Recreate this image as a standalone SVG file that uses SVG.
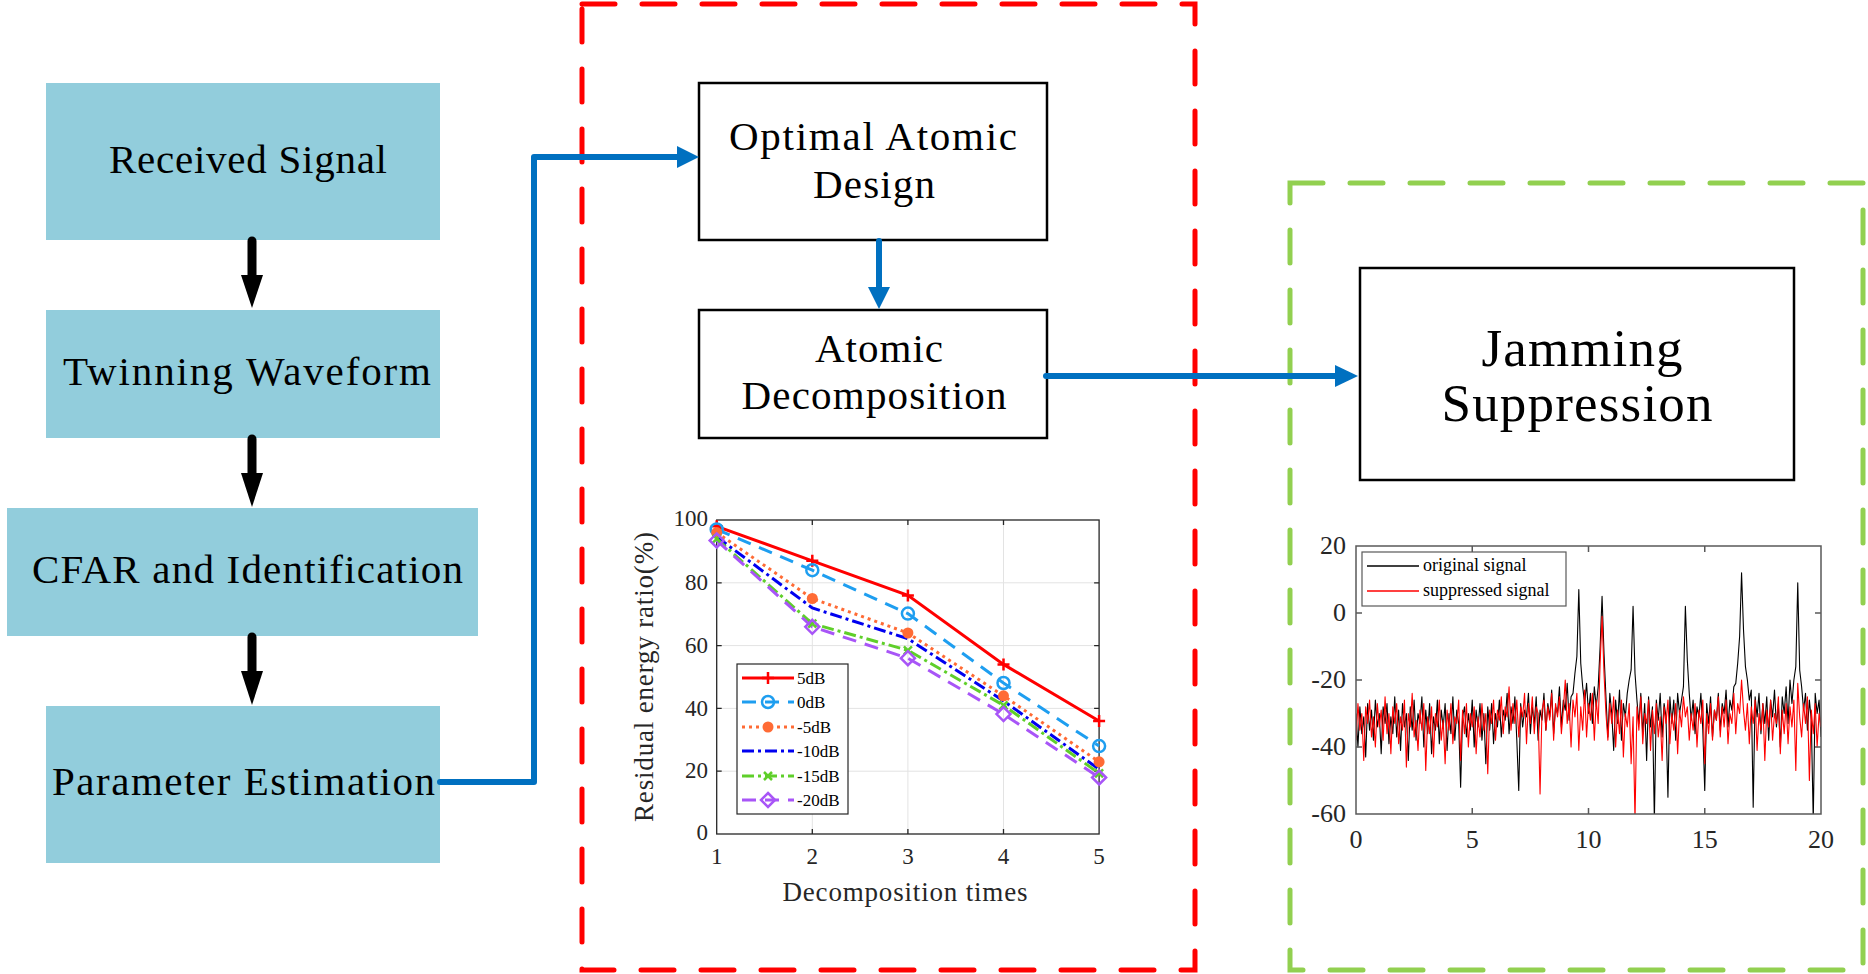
<svg xmlns="http://www.w3.org/2000/svg" xmlns:xlink="http://www.w3.org/1999/xlink" width="1868" height="974" viewBox="0 0 1868 974">
<style>
.fillbox{fill:#92CDDC;}
.wbox{fill:#fff;stroke:#000;stroke-width:2.5;}
.lbl{font-family:"Liberation Serif","Times New Roman",serif;fill:#000;text-anchor:middle;font-size:41px;}
.big{font-size:53px;}
.blk{stroke:#000;stroke-width:9;stroke-linecap:round;fill:none;}
.blu{stroke:#0070C0;stroke-width:6;stroke-linecap:round;stroke-linejoin:round;fill:none;}
.redd{fill:none;stroke:#FF0000;stroke-width:5;stroke-dasharray:33 27;stroke-linecap:round;}
.grnd{fill:none;stroke:#92D050;stroke-width:5;stroke-dasharray:33 27;stroke-linecap:round;}
.ax{fill:none;stroke:#262626;stroke-width:1.3;}
.ax2{fill:none;stroke:#595959;stroke-width:1.5;}
.grid{stroke:#E3E3E3;stroke-width:1;}
.tk{font-family:"Liberation Serif","Times New Roman",serif;font-size:23px;fill:#262626;}
.tk2{font-family:"Liberation Serif","Times New Roman",serif;font-size:26px;fill:#262626;}
.ttl{font-family:"Liberation Serif","Times New Roman",serif;font-size:27px;fill:#262626;text-anchor:middle;}
.lg{font-family:"Liberation Serif","Times New Roman",serif;font-size:17px;fill:#000;}
.lg2{font-family:"Liberation Serif","Times New Roman",serif;font-size:18px;fill:#000;}
.s5{fill:none;stroke:#FF0000;stroke-width:3;}
.s0{fill:none;stroke:#1E9EF0;stroke-width:3;stroke-dasharray:14 9;}
.sm5{fill:none;stroke:#FF6B35;stroke-width:3;stroke-dasharray:3 4;}
.sm10{fill:none;stroke:#0000F0;stroke-width:3;stroke-dasharray:12 4 3 4;}
.sm15{fill:none;stroke:#5FCF2A;stroke-width:3;stroke-dasharray:12 4 3 4;}
.sm20{fill:none;stroke:#A855F7;stroke-width:3;stroke-dasharray:14 9;}
.sig{fill:none;stroke-width:1.1;vector-effect:non-scaling-stroke;stroke-linejoin:round;}
</style>
<defs>
<g id="mk5"><path d="M-6,0H6M0,-6V6" stroke="#FF0000" stroke-width="2.5" fill="none"/></g>
<g id="mk0"><circle r="6" fill="none" stroke="#1E9EF0" stroke-width="2.5"/></g>
<g id="mkm5"><circle r="5.5" fill="#FF6B35"/></g>
<g id="mkm15"><path d="M-4,-4L4,4M-4,4L4,-4" stroke="#5FCF2A" stroke-width="2.5" fill="none"/></g>
<g id="mkm20"><path d="M0,-7L7,0L0,7L-7,0Z" stroke="#A855F7" stroke-width="2.5" fill="none"/></g>
<clipPath id="clip2"><rect x="1356" y="546" width="465" height="268"/></clipPath>
</defs>
<rect x="0" y="0" width="1868" height="974" fill="#fff"/>

<g id="containers">
<rect id="red-frame" class="redd" x="582" y="4" width="613" height="966"/>
<rect id="green-frame" class="grnd" x="1290" y="183" width="573" height="787"/>
</g>

<g id="node-received">
<rect class="fillbox" x="46" y="83" width="394" height="157"/>
<text class="lbl" x="248" y="173" textLength="278" lengthAdjust="spacing">Received Signal</text>
</g>
<g id="node-twinning">
<rect class="fillbox" x="46" y="310" width="394" height="128"/>
<text class="lbl" x="247" y="385" textLength="368" lengthAdjust="spacing">Twinning Waveform</text>
</g>
<g id="node-cfar">
<rect class="fillbox" x="7" y="508" width="471" height="128"/>
<text class="lbl" x="247.5" y="583" textLength="431" lengthAdjust="spacing">CFAR and Identification</text>
</g>
<g id="node-parameter">
<rect class="fillbox" x="46" y="706" width="394" height="157"/>
<text class="lbl" x="243.5" y="795" textLength="383" lengthAdjust="spacing">Parameter Estimation</text>
</g>
<g id="node-optimal">
<rect class="wbox" x="699" y="83" width="348" height="157"/>
<text class="lbl" x="873" y="150" textLength="288" lengthAdjust="spacing">Optimal Atomic</text>
<text class="lbl" x="874" y="198" textLength="122" lengthAdjust="spacing">Design</text>
</g>
<g id="node-decomp">
<rect class="wbox" x="699" y="310" width="348" height="128"/>
<text class="lbl" x="879" y="362" textLength="128" lengthAdjust="spacing">Atomic</text>
<text class="lbl" x="874" y="409" textLength="265" lengthAdjust="spacing">Decomposition</text>
</g>
<g id="node-jamming">
<rect class="wbox" x="1360" y="268" width="434" height="212"/>
<text class="lbl big" x="1582" y="366" textLength="201" lengthAdjust="spacing">Jamming</text>
<text class="lbl big" x="1577" y="421" textLength="271" lengthAdjust="spacing">Suppression</text>
</g>

<g id="connectors">
<path class="blk" d="M252,241V277"/>
<polygon points="241,275 263,275 252,308" fill="#000"/>
<path class="blk" d="M252,439V475"/>
<polygon points="241,473 263,473 252,507" fill="#000"/>
<path class="blk" d="M252,637V673"/>
<polygon points="241,671 263,671 252,705" fill="#000"/>
<path class="blu" d="M440,782H534V157H679"/>
<polygon points="677,146 699,157 677,168" fill="#0070C0"/>
<path class="blu" d="M879,241V289"/>
<polygon points="868,287 890,287 879,309" fill="#0070C0"/>
<path class="blu" d="M1046,376H1337"/>
<polygon points="1335,365 1358,376 1335,387" fill="#0070C0"/>
</g>

<g id="chart-residual">
<g class="grid">
<line x1="812.3" y1="520" x2="812.3" y2="834"/>
<line x1="907.9" y1="520" x2="907.9" y2="834"/>
<line x1="1003.5" y1="520" x2="1003.5" y2="834"/>
<line x1="716.7" y1="582.8" x2="1099.1" y2="582.8"/>
<line x1="716.7" y1="645.6" x2="1099.1" y2="645.6"/>
<line x1="716.7" y1="708.4" x2="1099.1" y2="708.4"/>
<line x1="716.7" y1="771.2" x2="1099.1" y2="771.2"/>
</g>
<rect class="ax" x="716.7" y="520" width="382.4" height="314"/>
<path class="ax" d="M716.7,582.8h5M716.7,645.6h5M716.7,708.4h5M716.7,771.2h5M1099.1,582.8h-5M1099.1,645.6h-5M1099.1,708.4h-5M1099.1,771.2h-5M812.3,834v-5M907.9,834v-5M1003.5,834v-5M812.3,520v5M907.9,520v5M1003.5,520v5"/>
<g class="tk" text-anchor="end">
<text x="708" y="526">100</text>
<text x="708" y="590">80</text>
<text x="708" y="653">60</text>
<text x="708" y="716">40</text>
<text x="708" y="778">20</text>
<text x="708" y="840">0</text>
</g>
<g class="tk" text-anchor="middle">
<text x="716.7" y="864">1</text>
<text x="812.3" y="864">2</text>
<text x="907.9" y="864">3</text>
<text x="1003.5" y="864">4</text>
<text x="1099.1" y="864">5</text>
</g>
<text class="ttl" x="905" y="901" textLength="245" lengthAdjust="spacing">Decomposition times</text>
<text class="ttl" transform="translate(653,677) rotate(-90)" x="0" y="0" textLength="290" lengthAdjust="spacing">Residual energy ratio(%)</text>
<polyline class="s5" points="716.7,526.3 812.3,560.8 907.9,595.4 1003.5,664.4 1099.1,721"/>
<polyline class="s0" points="716.7,529.4 812.3,570.2 907.9,613.6 1003.5,683 1099.1,746.1"/>
<polyline class="sm5" points="716.7,532.6 812.3,598.5 907.9,633 1003.5,695.8 1099.1,761.8"/>
<polyline class="sm10" points="716.7,536.9 812.3,607.9 907.9,638.7 1003.5,700.9 1099.1,769.3"/>
<polyline class="sm15" points="716.7,538.8 812.3,623.6 907.9,650.3 1003.5,705.3 1099.1,773.4"/>
<polyline class="sm20" points="716.7,540.4 812.3,626.8 907.9,658.2 1003.5,714.1 1099.1,777.5"/>
<use xlink:href="#mk5" x="716.7" y="526.3"/><use xlink:href="#mk5" x="812.3" y="560.8"/><use xlink:href="#mk5" x="907.9" y="595.4"/><use xlink:href="#mk5" x="1003.5" y="664.4"/><use xlink:href="#mk5" x="1099.1" y="721"/>
<use xlink:href="#mk0" x="716.7" y="529.4"/><use xlink:href="#mk0" x="812.3" y="570.2"/><use xlink:href="#mk0" x="907.9" y="613.6"/><use xlink:href="#mk0" x="1003.5" y="683"/><use xlink:href="#mk0" x="1099.1" y="746.1"/>
<use xlink:href="#mkm5" x="716.7" y="532.6"/><use xlink:href="#mkm5" x="812.3" y="598.5"/><use xlink:href="#mkm5" x="907.9" y="633"/><use xlink:href="#mkm5" x="1003.5" y="695.8"/><use xlink:href="#mkm5" x="1099.1" y="761.8"/>
<use xlink:href="#mkm15" x="716.7" y="538.8"/><use xlink:href="#mkm15" x="812.3" y="623.6"/><use xlink:href="#mkm15" x="907.9" y="650.3"/><use xlink:href="#mkm15" x="1003.5" y="705.3"/><use xlink:href="#mkm15" x="1099.1" y="773.4"/>
<use xlink:href="#mkm20" x="716.7" y="540.4"/><use xlink:href="#mkm20" x="812.3" y="626.8"/><use xlink:href="#mkm20" x="907.9" y="658.2"/><use xlink:href="#mkm20" x="1003.5" y="714.1"/><use xlink:href="#mkm20" x="1099.1" y="777.5"/>
<g id="legend-residual">
<rect x="737" y="664" width="111" height="150" fill="#fff" stroke="#262626" stroke-width="1.2"/>
<line class="s5" x1="742" y1="678" x2="794" y2="678"/><use xlink:href="#mk5" x="768" y="678"/>
<line class="s0" x1="742" y1="702" x2="794" y2="702"/><use xlink:href="#mk0" x="768" y="702"/>
<line class="sm5" x1="742" y1="727" x2="794" y2="727"/><use xlink:href="#mkm5" x="768" y="727"/>
<line class="sm10" x1="742" y1="751" x2="794" y2="751"/>
<line class="sm15" x1="742" y1="776" x2="794" y2="776"/><use xlink:href="#mkm15" x="768" y="776"/>
<line class="sm20" x1="742" y1="800" x2="794" y2="800"/><use xlink:href="#mkm20" x="768" y="800"/>
<text class="lg" x="797" y="684">5dB</text>
<text class="lg" x="797" y="708">0dB</text>
<text class="lg" x="797" y="733">-5dB</text>
<text class="lg" x="797" y="757">-10dB</text>
<text class="lg" x="797" y="782">-15dB</text>
<text class="lg" x="797" y="806">-20dB</text>
</g>
</g>

<g id="chart-signal">
<g clip-path="url(#clip2)">
<polyline class="sig" stroke="#000" transform="translate(1356,613) scale(1.9375,-3.35)" points="0,-30 1,-40 2,-28 3,-36 4,-31 5,-43 6,-27 7,-35 8,-29 9,-38 10,-26 11,-34 12,-30 13,-42 14,-28 15,-33 16,-27 17,-39 18,-31 19,-36 20,-25 21,-37 22,-29 23,-41 24,-27 25,-34 26,-30 27,-44 28,-28 29,-35 30,-26 31,-38 32,-30 33,-33 34,-25 35,-40 36,-29 37,-36 38,-27 39,-42 40,-31 41,-35 42,-26 43,-39 44,-29 45,-34 46,-27 47,-41 48,-30 49,-36 50,-25 51,-38 52,-29 53,-33 54,-52 55,-31 56,-28 57,-37 58,-30 59,-35 60,-26 61,-40 62,-29 63,-34 64,-27 65,-38 66,-30 67,-45 68,-28 69,-35 70,-27 71,-39 72,-30 73,-34 74,-26 75,-37 76,-29 77,-32 78,-24 79,-36 80,-28 81,-33 82,-25 83,-38 84,-53 85,-27 86,-34 87,-29 88,-31 89,-24 90,-36 91,-28 92,-33 93,-25 94,-38 95,-29 96,-32 97,-24 98,-35 99,-27 100,-31 101,-23 102,-36 103,-28 104,-30 105,-22 106,-34 107,-26 108,-29 109,-21 110,-32 111,-25 112,-24 113,-18 114,-13 115,7 116,-15 117,-22 118,-27 119,-21 120,-30 121,-24 122,-33 123,-22 124,-28 125,-22 126,-10 127,5 128,-12 129,-25 130,-37 131,-24 132,-30 133,-41 134,-26 135,-33 136,-23 137,-38 138,-27 139,-31 140,-24 141,-20 142,-17 143,2 144,-18 145,-26 146,-33 147,-24 148,-36 149,-27 150,-44 151,-25 152,-34 153,-28 154,-62 155,-26 156,-32 157,-24 158,-37 159,-27 160,-31 161,-55 162,-25 163,-33 164,-26 165,-38 166,-24 167,-30 168,-26 169,-22 170,2 171,-14 172,-24 173,-32 174,-26 175,-36 176,-28 177,-31 178,-24 179,-35 180,-53 181,-27 182,-33 183,-25 184,-37 185,-29 186,-32 187,-24 188,-35 189,-27 190,-30 191,-23 192,-34 193,-26 194,-29 195,-22 196,-21 197,-15 198,-7 199,12 200,-5 201,-16 202,-20 203,-26 204,-23 205,-58 206,-25 207,-31 208,-24 209,-36 210,-27 211,-33 212,-25 213,-38 214,-26 215,-31 216,-23 217,-34 218,-27 219,-40 220,-25 221,-30 222,-22 223,-33 224,-20 225,-27 226,-20 227,-16 228,9 229,-17 230,-22 231,-29 232,-24 233,-35 234,-26 235,-32 236,-62 237,-24 238,-30 239,-26 240,-37"/>
<polyline class="sig" stroke="#FF0000" transform="translate(1356,613) scale(1.9375,-3.35)" points="0,-38 1,-27 2,-35 3,-30 4,-44 5,-28 6,-33 7,-26 8,-37 9,-31 10,-40 11,-27 12,-34 13,-29 14,-38 15,-25 16,-36 17,-30 18,-42 19,-28 20,-33 21,-27 22,-39 23,-31 24,-35 25,-26 26,-46 27,-30 28,-34 29,-24 30,-37 31,-32 32,-41 33,-29 34,-35 35,-27 36,-47 37,-31 38,-36 39,-28 40,-43 41,-30 42,-34 43,-26 44,-38 45,-32 46,-45 47,-29 48,-35 49,-27 50,-39 51,-31 52,-33 53,-26 54,-44 55,-29 56,-36 57,-27 58,-40 59,-30 60,-34 61,-28 62,-42 63,-31 64,-37 65,-27 66,-35 67,-30 68,-48 69,-29 70,-33 71,-26 72,-38 73,-29 74,-32 75,-25 76,-36 77,-28 78,-31 79,-22 80,-35 81,-27 82,-33 83,-26 84,-37 85,-28 86,-31 87,-24 88,-39 89,-27 90,-33 91,-25 92,-36 93,-28 94,-30 95,-54 96,-29 97,-26 98,-35 99,-28 100,-32 101,-24 102,-38 103,-27 104,-31 105,-25 106,-36 107,-29 108,-20 109,-33 110,-27 111,-40 112,-26 113,-31 114,-24 115,-41 116,-28 117,-35 118,-23 119,-37 120,-27 121,-32 122,-24 123,-38 124,-26 125,-33 126,-15 127,-1 128,-18 129,-30 130,-38 131,-27 132,-33 133,-25 134,-40 135,-29 136,-36 137,-26 138,-43 139,-30 140,-34 141,-27 142,-45 143,-31 144,-62 145,-28 146,-35 147,-25 148,-39 149,-30 150,-33 151,-26 152,-41 153,-29 154,-36 155,-27 156,-37 157,-31 158,-44 159,-28 160,-33 161,-26 162,-39 163,-30 164,-35 165,-27 166,-42 167,-29 168,-34 169,-25 170,-31 171,-28 172,-38 173,-30 174,-35 175,-27 176,-40 177,-29 178,-33 179,-26 180,-45 181,-30 182,-36 183,-27 184,-38 185,-29 186,-32 187,-25 188,-37 189,-28 190,-34 191,-26 192,-39 193,-30 194,-33 195,-24 196,-36 197,-27 198,-30 199,-20 200,-29 201,-35 202,-27 203,-39 204,-28 205,-33 206,-26 207,-41 208,-30 209,-35 210,-27 211,-44 212,-29 213,-34 214,-26 215,-38 216,-30 217,-33 218,-25 219,-42 220,-29 221,-36 222,-27 223,-39 224,-28 225,-34 226,-26 227,-47 228,-21 229,-31 230,-37 231,-27 232,-33 233,-25 234,-50 235,-29 236,-36 237,-27 238,-40 239,-30 240,-34"/>
</g>
<rect class="ax2" x="1356" y="546" width="465" height="268"/>
<path class="ax2" d="M1356,613h6M1356,680h6M1356,747h6M1821,613h-6M1821,680h-6M1821,747h-6M1472.25,814v-6M1588.5,814v-6M1704.75,814v-6M1472.25,546v6M1588.5,546v6M1704.75,546v6"/>
<g class="tk2" text-anchor="end">
<text x="1346" y="554">20</text>
<text x="1346" y="621">0</text>
<text x="1346" y="688">-20</text>
<text x="1346" y="755">-40</text>
<text x="1346" y="822">-60</text>
</g>
<g class="tk2" text-anchor="middle">
<text x="1356" y="848">0</text>
<text x="1472.25" y="848">5</text>
<text x="1588.5" y="848">10</text>
<text x="1704.75" y="848">15</text>
<text x="1821" y="848">20</text>
</g>
<g id="legend-signal">
<rect x="1362" y="552" width="204" height="54" fill="#fff" stroke="#595959" stroke-width="1.2"/>
<line x1="1367" y1="566" x2="1419" y2="566" stroke="#000" stroke-width="1.3"/>
<line x1="1367" y1="591" x2="1419" y2="591" stroke="#FF0000" stroke-width="1.3"/>
<text class="lg2" x="1423" y="571">original signal</text>
<text class="lg2" x="1423" y="596">suppressed signal</text>
</g>
</g>
</svg>
